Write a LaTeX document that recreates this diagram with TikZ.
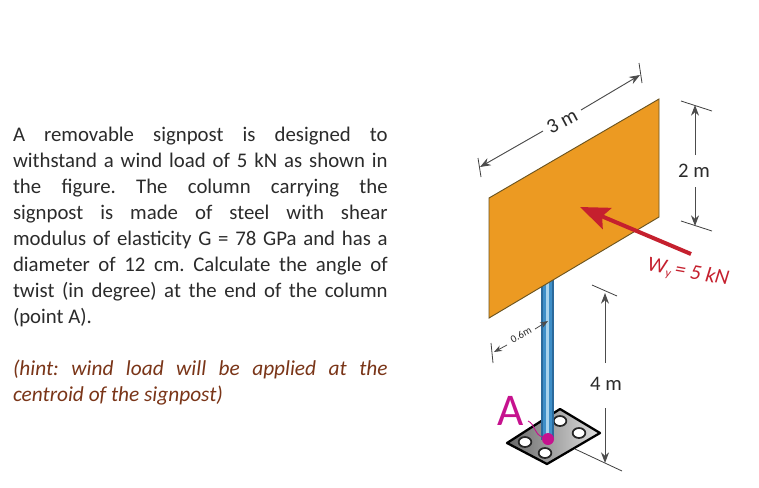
\documentclass[tikz,border=0pt]{standalone}
\usepackage{fontspec}
\setmainfont{Carlito}
\usetikzlibrary{arrows.meta,shadings,shapes.geometric}
\definecolor{txt}{HTML}{2B2B2B}
\definecolor{hint}{HTML}{7A3518}
\definecolor{sign}{HTML}{EC9A22}
\definecolor{signedge}{HTML}{6B5420}
\definecolor{wred}{HTML}{C5202E}
\definecolor{pinkA}{HTML}{C6128E}
\definecolor{postmid}{HTML}{3F8FC8}
\definecolor{postdark}{HTML}{2B6A9C}
\definecolor{postlight}{HTML}{A9D3EC}
\newcommand{\tl}[1]{\makebox[281pt][s]{#1}}
\frenchspacing
\tikzset{
  x=0.75pt,y=-0.75pt,
  para/.style={anchor=base west,inner sep=0pt,outer sep=0pt,text=txt,font=\fontsize{15.6}{18}\selectfont},
  hintline/.style={para,text=hint,font=\fontsize{16}{18}\selectfont\itshape},
  dimtick/.style={draw=black!75,line width=0.6pt},
  dimline/.style={draw=black!70,line width=0.7pt,-{Stealth[length=8pt,width=6pt]}},
  smalldim/.style={draw=black!70,line width=0.6pt,-{Stealth[length=6pt,width=4.5pt]}},
  dimtext/.style={inner sep=0pt,text=txt,font=\fontsize{15.5}{18}\selectfont},
  hole/.style={ellipse,draw=black!85,line width=1.3pt,fill=white,minimum width=9.5pt,minimum height=7.5pt,inner sep=0pt},
}
\begin{document}
\begin{tikzpicture}
\useasboundingbox (0,0) rectangle (759,487);
\fill[white] (0,0) rectangle (759,487);
% text
\node[para] (l1) at (13,141) {\tl{A removable signpost is designed to}};
\node[para] (l2) at (13,167) {\tl{withstand a wind load of 5 kN as shown in}};
\node[para] (l3) at (13,193) {\tl{the figure. The column carrying the}};
\node[para] (l4) at (13,219) {\tl{signpost is made of steel with shear}};
\node[para] (l5) at (13,245) {\tl{modulus of elasticity G = 78 GPa and has a}};
\node[para] (l6) at (13,271) {\tl{diameter of 12 cm. Calculate the angle of}};
\node[para] (l7) at (13,297) {\tl{twist (in degree) at the end of the column}};
\node[para] (l8) at (13,323) {(point A).};
\node[hintline] (h1) at (13,375) {\tl{(hint: wind load will be applied at the}};
\node[hintline] (h2) at (13,401) {centroid of the signpost)};
% base plate
\coordinate (pl) at (507,443); \coordinate (pt) at (560,409);
\coordinate (pr) at (600,433); \coordinate (pb) at (547,464);
\shade[left color=black!60,right color=black!12,draw=black,line width=1.7pt,line join=round]
  (pl) -- (pt) -- (pr) -- (pb) -- cycle;
\node[hole] (h1b) at (525,442) {};
\node[hole] (h2b) at (545,453) {};
\node[hole] (h3b) at (560,421) {};
\node[hole] (h4b) at (579,433) {};
% post
\fill[postmid] (542,280) rectangle (553,440);
\fill[postlight] (546,280) rectangle (549,438);
\draw[postdark,line width=0.8pt] (542,280) -- (542,440) (553,280) -- (553,440);
% sign
\coordinate (sa) at (489,198); \coordinate (sb) at (659,99);
\coordinate (sc) at (659,217); \coordinate (sd) at (489,318);
\filldraw[fill=sign,draw=signedge,line width=0.7pt] (sa) -- (sb) -- (sc) -- (sd) -- cycle;
% 3 m
\coordinate (t1a) at (478,158); \coordinate (t1b) at (481,177);
\coordinate (t2a) at (639,63); \coordinate (t2b) at (642,83);
\draw[dimtick] (t1a) -- (t1b); \draw[dimtick] (t2a) -- (t2b);
\node[dimtext,rotate=28] (m3) at (562,121) {3 m};
\coordinate (e1) at (480,167); \coordinate (e2) at (640,75);
\coordinate (g1) at (543,131); \coordinate (g2) at (581,110);
\draw[dimline] (g1) -- (e1); \draw[dimline] (g2) -- (e2);
% 2 m
\coordinate (u1a) at (681,101); \coordinate (u1b) at (712,111);
\coordinate (u2a) at (681,221); \coordinate (u2b) at (712,231);
\draw[dimtick] (u1a) -- (u1b); \draw[dimtick] (u2a) -- (u2b);
\node[dimtext] (m2) at (694,171) {2 m};
\coordinate (v1) at (695,155); \coordinate (v2) at (695,105);
\coordinate (v3) at (695,187); \coordinate (v4) at (695,226);
\draw[dimline] (v1) -- (v2); \draw[dimline] (v3) -- (v4);
% wind arrow
\coordinate (wa) at (691,254); \coordinate (wb) at (580,207);
\draw[wred,line width=3pt,-{Stealth[length=22pt,width=17pt,inset=4pt]}] (wa) -- (wb);
\node[inner sep=0pt,text=wred,rotate=-10,font=\fontsize{16}{18}\selectfont\itshape] (wl) at (688,273) {W\raisebox{-2pt}{\fontsize{9}{9}\selectfont y}\,= 5 kN};
% 0.6 m
\coordinate (z1a) at (491,343); \coordinate (z1b) at (493,363);
\draw[dimtick] (z1a) -- (z1b);
\node[inner sep=0pt,text=txt,rotate=28,font=\fontsize{8}{9}\selectfont] (m06) at (521,335) {0.6m};
\coordinate (y1) at (494,352); \coordinate (y1g) at (507,345);
\coordinate (y2) at (548,321); \coordinate (y2g) at (535,329);
\draw[smalldim] (y1g) -- (y1);
\draw[smalldim] (y2g) -- (y2);
% 4 m
\coordinate (x1a) at (592,285); \coordinate (x1b) at (617,296);
\coordinate (x2a) at (575,449); \coordinate (x2b) at (622,471);
\draw[dimtick] (x1a) -- (x1b); \draw[dimtick] (x2a) -- (x2b);
\node[dimtext] (m4) at (606,384) {4 m};
\coordinate (w1) at (605,363); \coordinate (w2) at (605,293);
\coordinate (w3) at (605,408); \coordinate (w4) at (605,463);
\draw[dimline] (w1) -- (w2); \draw[dimline] (w3) -- (w4);
% point A
\node[circle,fill=pinkA,minimum size=9pt,inner sep=0pt] (dotA) at (548,439) {};
\node[inner sep=0pt,text=pinkA,font=\fontsize{34}{36}\selectfont] (A) at (511,411) {A};
\coordinate (la) at (528,421);
\draw[pinkA,line width=0.7pt] (la) .. controls (535,424) and (534,434) .. (dotA);
\end{tikzpicture}
\end{document}
